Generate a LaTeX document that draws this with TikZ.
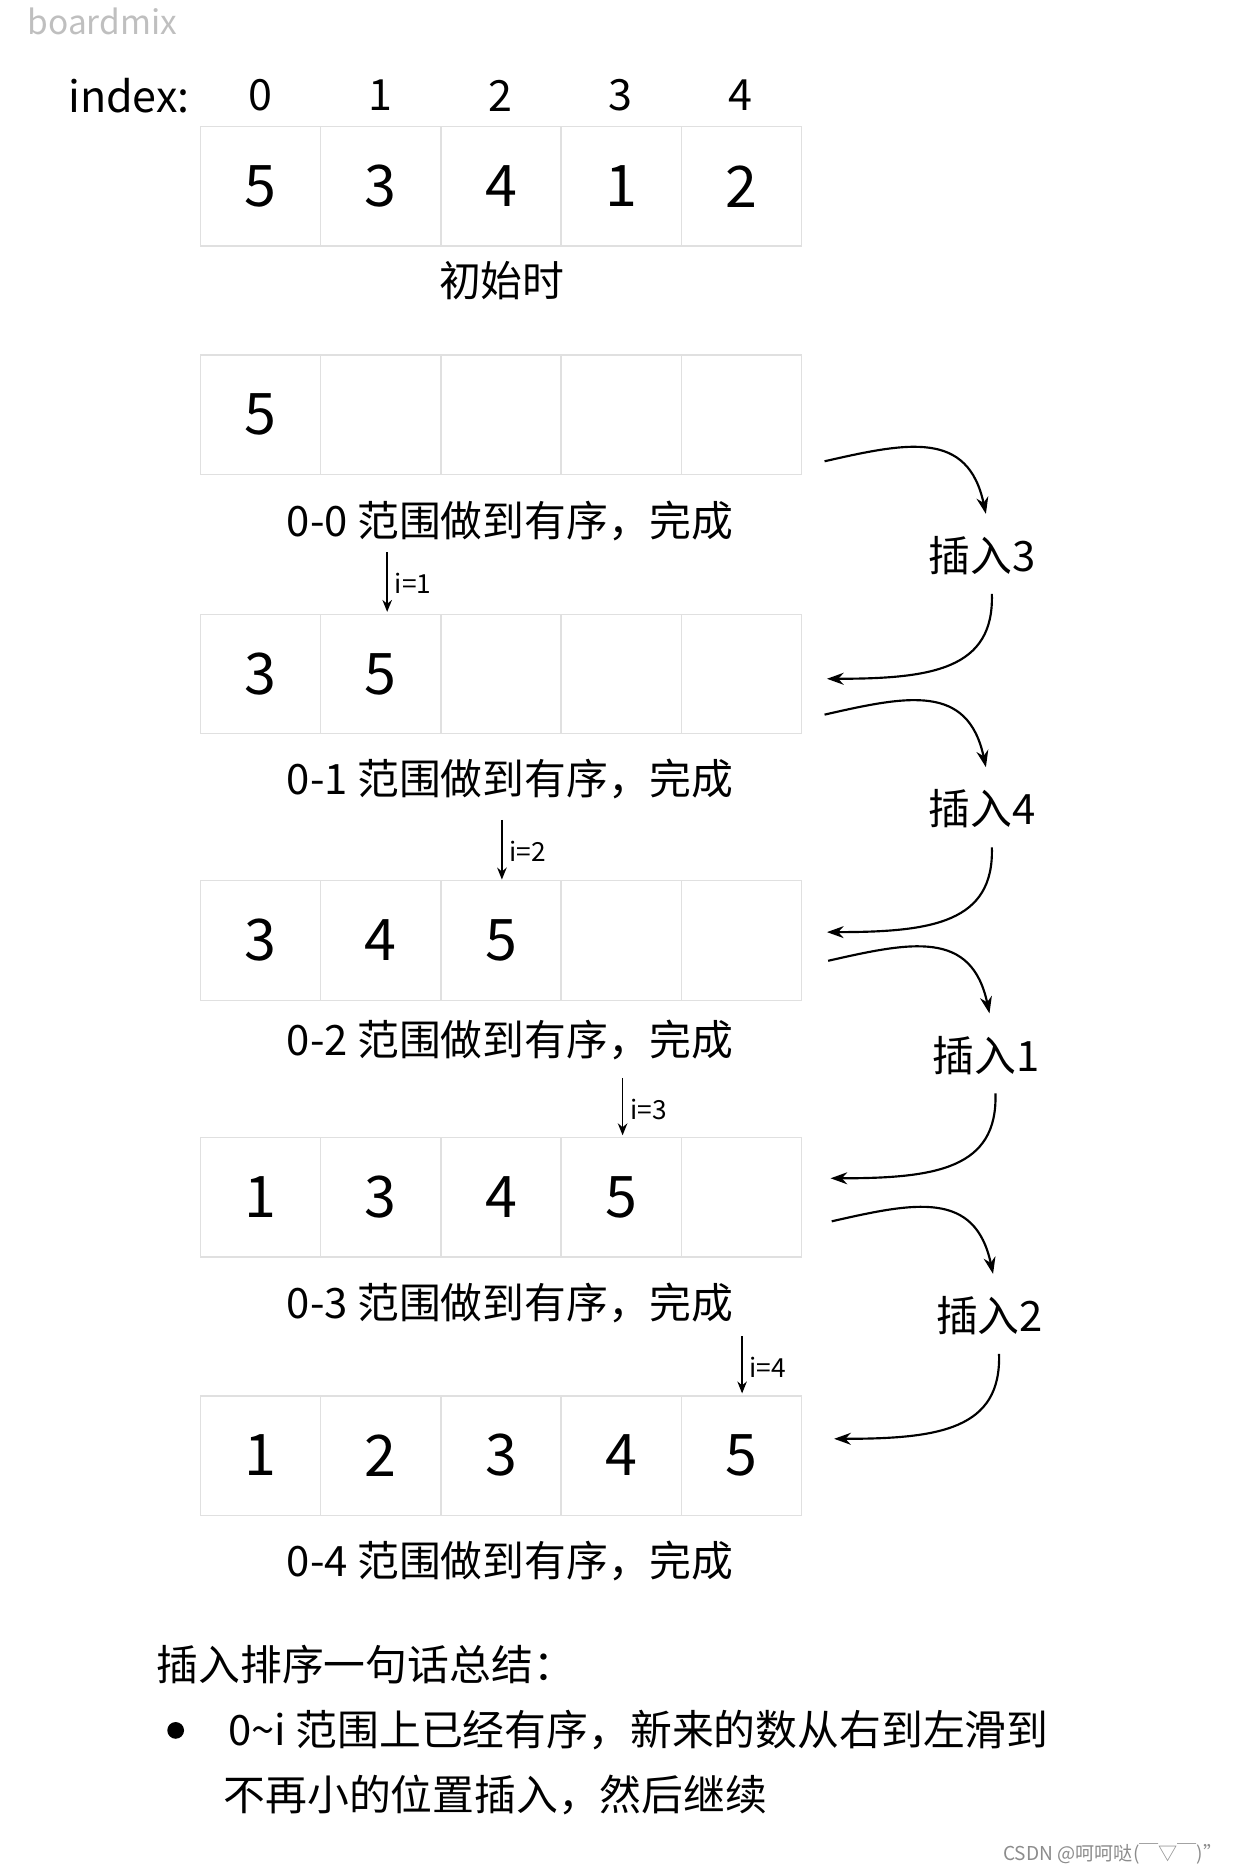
\documentclass[tikz,border=0pt]{standalone}
\usepackage{fontspec}
\setmainfont{Noto Sans CJK SC}
\usetikzlibrary{arrows.meta}
\begin{document}
\begin{tikzpicture}[x=0.5pt,y=-0.5pt,
  cellbox/.style={draw=black!12,line width=0.6pt,minimum width=50.3pt,minimum height=50pt,inner sep=0pt,font=\fontsize{24}{24}\selectfont},
  captxt/.style={font=\fontsize{17.5}{20}\selectfont},
  idxtxt/.style={font=\fontsize{18}{20}\selectfont},
  smtxt/.style={font=\fontsize{11}{12}\selectfont,anchor=west,inner sep=1pt},
  steparr/.style={-{Stealth[length=5pt,width=4pt]},line width=0.6pt},
  insarr/.style={-{Stealth[length=7pt,width=5pt]},line width=0.9pt}]
\useasboundingbox (0,0) rectangle (1040,1564);
\node[text=black!25,font=\fontsize{14}{14}\selectfont,anchor=west] (wm) at (16,18) {boardmix};
\node[idxtxt,anchor=center] (ix) at (108,80) {index:};
\foreach \i/\x in {0/218,1/318,2/419,3/519,4/620} \node[idxtxt] (i\i) at (\x,80) {\i};
% tables
\newcommand{\tbl}[7]{%
  \foreach \c [count=\k from 0] in {#3,#4,#5,#6,#7}
    \node[cellbox] (#1c\k) at (218+100.6*\k,#2) {\c};}
\tbl{a}{156}{5}{3}{4}{1}{2}
\tbl{b}{347}{5}{}{}{}{}
\tbl{c}{564}{3}{5}{}{}{}
\tbl{d}{787}{3}{4}{5}{}{}
\tbl{e}{1002}{1}{3}{4}{5}{}
\tbl{f}{1218}{1}{2}{3}{4}{5}
\node[captxt] (ca) at (420,235) {初始时};
\node[captxt] (cb) at (427,436) {0-0 范围做到有序，完成};
\node[captxt] (cc) at (427,652) {0-1 范围做到有序，完成};
\node[captxt] (cd) at (427,870) {0-2 范围做到有序，完成};
\node[captxt] (ce) at (427,1090) {0-3 范围做到有序，完成};
\node[captxt] (cf) at (427,1306) {0-4 范围做到有序，完成};
% step arrows
\foreach \n/\x/\ya/\yb/\t in {1/324/462/512/i=1,2/420/686/736/i=2,3/521/902/950/i=3,4/621/1118/1166/i=4}{
  \coordinate (sa\n) at (\x,\ya); \coordinate (sb\n) at (\x,\yb);
  \draw[steparr] (sa\n) -- (sb\n);
  \node[smtxt] (sl\n) at (\x+4,\ya+26) {\t};}
% insert arrows
\foreach \n/\dx/\dy/\t in {1/0/0/插入3,2/0/212/插入4,3/3/418/插入1,4/6/636/插入2}{
  \coordinate (p\n) at (690+\dx,386+\dy);
  \coordinate (q\n) at (825+\dx,430+\dy);
  \coordinate (r\n) at (830+\dx,497+\dy);
  \coordinate (s\n) at (692+\dx,568+\dy);
  \node[captxt] (L\n) at (822+\dx,465+\dy) {\t};
  \draw[insarr] (p\n) .. controls (760+\dx,370+\dy) and (810+\dx,360+\dy) .. (q\n);
  \draw[insarr] (r\n) .. controls (832+\dx,560+\dy) and (780+\dx,568+\dy) .. (s\n);}
\node[captxt,anchor=west] (sum) at (124,1393) {插入排序一句话总结：};
\coordinate (bul) at (147,1448);
\fill (bul) circle (7);
\node[captxt,anchor=west] (l1) at (184,1448) {0\textasciitilde i 范围上已经有序，新来的数从右到左滑到};
\node[captxt,anchor=west] (l2) at (180,1502) {不再小的位置插入，然后继续};
\node[text=black!45,font=\fontsize{8}{8}\selectfont,anchor=east] (csdn) at (1030,1551) {CSDN @呵呵哒(￣▽￣)"};
\end{tikzpicture}
\end{document}
